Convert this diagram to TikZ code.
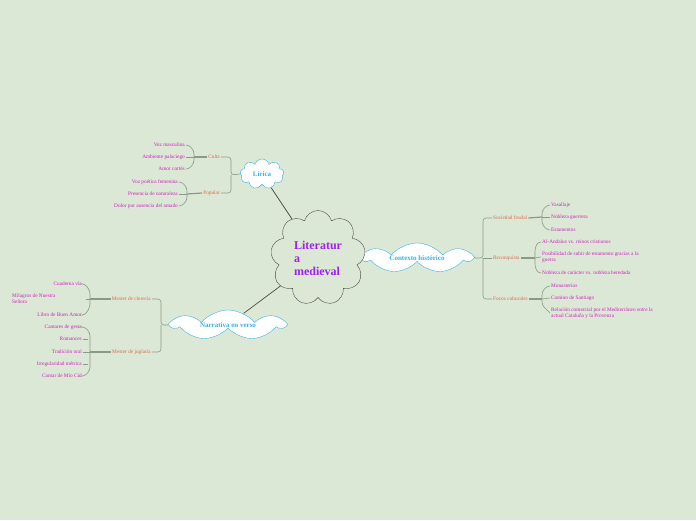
\documentclass[tikz,border=0pt]{standalone}
\usepackage{fontspec}
\setmainfont{Liberation Serif}
\usetikzlibrary{shapes.symbols}
\definecolor{bg}{HTML}{DCE8D6}
\definecolor{leaf}{HTML}{D020C0}
\definecolor{sub}{HTML}{E0684A}
\definecolor{cl}{HTML}{3AB0E8}
\definecolor{cen}{HTML}{A020F0}
\definecolor{br}{HTML}{8A9A88}
\begin{document}
\begin{tikzpicture}[x=1pt,y=-1pt,
 lf/.style={text=leaf,font=\fontsize{5.3}{5.8}\selectfont,inner sep=1pt,align=left},
 sb/.style={text=sub,font=\fontsize{5.3}{6}\selectfont,inner sep=1pt},
 cld/.style={cloud,cloud puffs=9,cloud ignores aspect,draw=cl,fill=white,text=cl,font=\fontsize{7}{8}\selectfont\bfseries,inner sep=0pt},
 brk/.style={draw=br,line width=0.6pt,rounded corners=3pt},
 con/.style={draw=black!70,line width=0.7pt}]
\fill[bg] (0,0) rectangle (696,520);
% main lines
\coordinate (C) at (318,258);
\node[cld,minimum width=44,minimum height=30] (L) at (262,174) {Lírica};
\node[cld,minimum width=108,minimum height=30,cloud puffs=7,cloud puff arc=100] (K) at (417,258) {Contexto histórico};
\node[cld,minimum width=112,minimum height=30,cloud puffs=7,cloud puff arc=100] (N) at (228,325) {Narrativa en verso};
\draw[con] (L) -- (C); \draw[con] (K) -- (C); \draw[con] (N) -- (C);
\node[cloud,cloud puffs=9,draw=black!70,fill=bg,minimum width=95,minimum height=95,text=cen,align=left,inner sep=0pt,font=\fontsize{12}{13}\selectfont\bfseries] (M) at (318,258) {Literatur\\a\\medieval};
% Lirica
\node[sb,anchor=east] (cu) at (221,157) {Culta};
\node[sb,anchor=east] (po) at (221,193) {Popular};
\draw[brk] (L.west) -- (231,175) |- (cu.east);
\draw[brk] (231,175) |- (po.east);
\node[lf,anchor=east] (a1) at (186,145) {Voz masculina};
\node[lf,anchor=east] (a2) at (186,157) {Ambiente palaciego};
\node[lf,anchor=east] (a3) at (186,169) {Amor cortés};
\draw[brk,line width=1.2pt] (cu.west) -- (194,157);
\draw[brk] (194,157) -- (a2.east);
\draw[brk] (a1.east) -- (189,145) -- (194,151) -- (194,163) -- (189,169) -- (a3.east);
\node[lf,anchor=east] (b1) at (179,182) {Voz poética femenina};
\node[lf,anchor=east] (b2) at (179,194) {Presencia de naturaleza};
\node[lf,anchor=east] (b3) at (179,206) {Dolor por ausencia del amado};
\draw[brk,line width=1.2pt] (po.west) -- (187,194);
\draw[brk] (187,194) -- (b2.east);
\draw[brk] (b1.east) -- (182,182) -- (187,188) -- (187,200) -- (182,206) -- (b3.east);
% Narrativa
\node[sb,anchor=east] (mc) at (152,299) {Mester de clerecía};
\node[sb,anchor=east] (mj) at (152,352) {Mester de juglaría};
\draw[brk] (N.west) -- (161,325) |- (mc.east);
\draw[brk] (161,325) |- (mj.east);
\node[lf,anchor=east] (c1) at (83,284) {Cuaderna vía};
\node[lf,anchor=west] (c2) at (11,299) {Milagros de Nuestra\\Señora};
\node[lf,anchor=east] (c3) at (83,315) {Libro de Buen Amor};
\draw[brk,line width=1.2pt] (mc.west) -- (90,299);
\draw[brk] (90,299) -- (86,299);
\draw[brk] (c1.east) -- (85,284) -- (90,291) -- (90,307) -- (85,315) -- (c3.east);
\node[lf,anchor=east] (d1) at (83,327) {Cantares de gesta};
\node[lf,anchor=east] (d2) at (83,339) {Romances};
\node[lf,anchor=east] (d3) at (83,352) {Tradición oral};
\node[lf,anchor=east] (d4) at (83,364) {Irregularidad métrica};
\node[lf,anchor=east] (d5) at (83,376) {Cantar de Mío Cid};
\draw[brk,line width=1.2pt] (mj.west) -- (90,352);
\draw[brk] (90,352) -- (d3.east);
\draw[brk] (d1.east) -- (85,327) -- (90,333) -- (90,370) -- (85,376) -- (d5.east);
\draw[brk] (d2.east) -- (88,339); \draw[brk] (d4.east) -- (88,364);
% Contexto
\node[sb,anchor=west] (sf) at (492,218) {Sociedad feudal};
\node[sb,anchor=west] (re) at (492,258) {Reconquista};
\node[sb,anchor=west] (fc) at (492,299) {Focos culturales};
\draw[brk] (K.east) -- (483,258) |- (sf.west);
\draw[brk] (483,258) -- (re.west);
\draw[brk] (483,258) |- (fc.west);
\node[lf,anchor=west] (e1) at (550,205) {Vasallaje};
\node[lf,anchor=west] (e2) at (550,217) {Nobleza guerrera};
\node[lf,anchor=west] (e3) at (550,230) {Estamentos};
\draw[brk,line width=1.2pt] (sf.east) -- (542,217);
\draw[brk] (542,217) -- (e2.west);
\draw[brk] (e1.west) -- (547,205) -- (542,211) -- (542,224) -- (547,230) -- (e3.west);
\node[lf,anchor=west] (f1) at (541,242) {Al-Andalus vs. reinos cristianos};
\node[lf,anchor=west] (f2) at (541,257) {Posibilidad de subir de estamento gracias a la\\guerra};
\node[lf,anchor=west] (f3) at (541,273) {Nobleza de carácter vs. nobleza heredada};
\draw[brk,line width=1.2pt] (re.east) -- (535,258);
\draw[brk] (535,258) -- (f2.west);
\draw[brk] (f1.west) -- (538,242) -- (535,248) -- (535,267) -- (538,273) -- (f3.west);
\node[lf,anchor=west] (g1) at (550,286) {Monasterios};
\node[lf,anchor=west] (g2) at (550,298) {Camino de Santiago};
\node[lf,anchor=west] (g3) at (550,313) {Relación comercial por el Mediterráneo entre la\\actual Cataluña y la Provenza};
\draw[brk,line width=1.2pt] (fc.east) -- (542,299);
\draw[brk] (542,299) -- (g2.west);
\draw[brk] (g1.west) -- (547,286) -- (542,292) -- (542,305) -- (547,310) -- (g3.west);
\end{tikzpicture}
\end{document}
